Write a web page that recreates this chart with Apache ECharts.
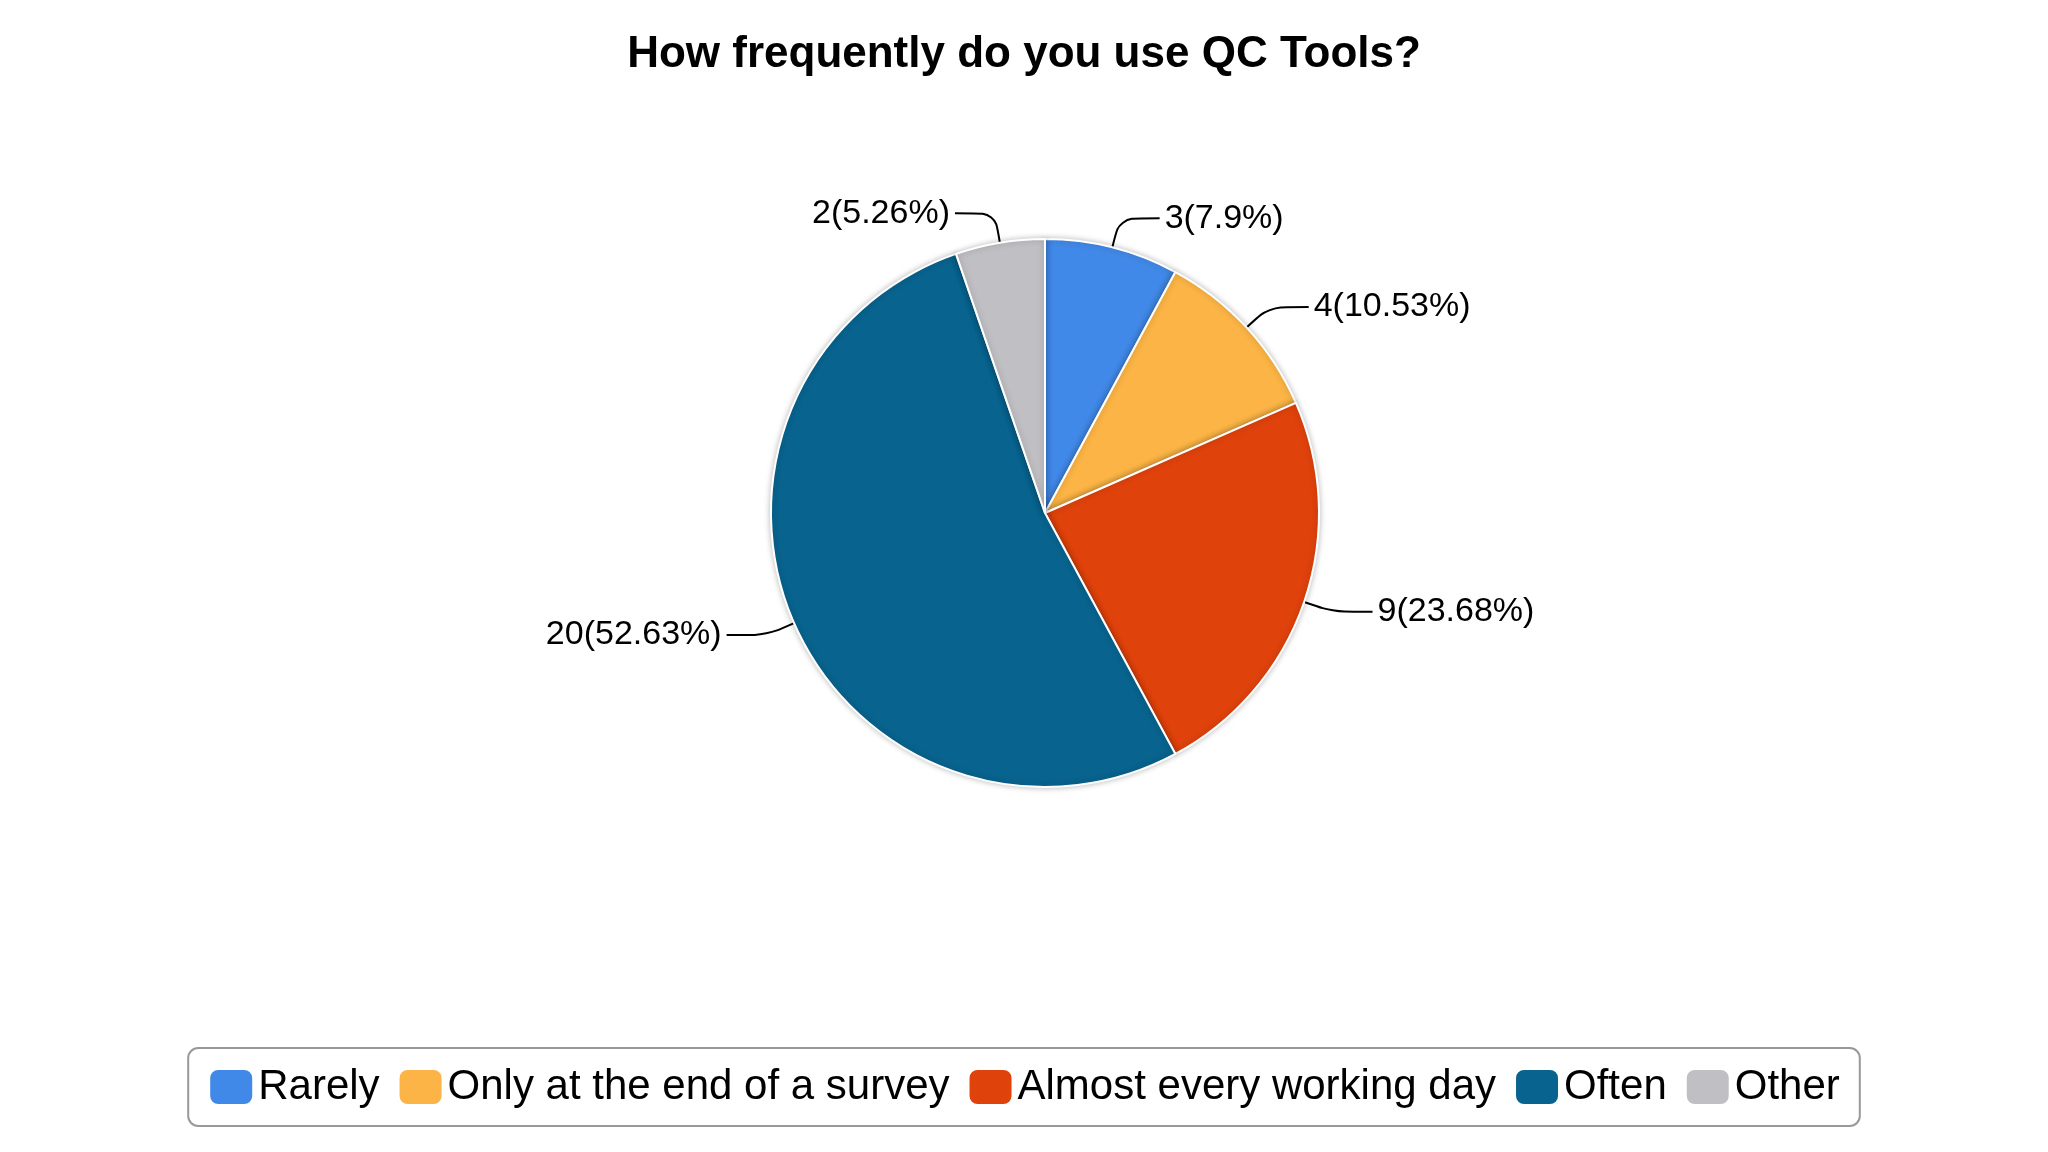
<!DOCTYPE html>
<html>
<head>
<meta charset="utf-8">
<script src="https://cdn.jsdelivr.net/npm/echarts@6/dist/echarts.min.js"></script>
<style>html,body{margin:0;padding:0;background:#fff}#chart{width:2048px;height:1152px}</style>
</head>
<body>
<div id="chart"></div>
<script>
// 数据
var categories = ['Rarely', 'Only at the end of a survey', 'Almost every working day', 'Often', 'Other'];
var counts = [3, 4, 9, 20, 2];
var colors = ['#4189e8', '#fbb445', '#e0420c', '#08638e', '#c0c0c4'];

var chart = echarts.init(document.getElementById('chart'));
var pieData = categories.map(function(name, i) {
    return { name: name, value: counts[i] };
});

chart.setOption({
    color: colors,
    animation: false,
    title: {
        text: 'How frequently do you use QC Tools?',
        left: 'center',
        top: 28,
        textStyle: { fontFamily: 'Liberation Sans', fontSize: 44, fontWeight: 'bold', color: '#000' }
    },
    legend: {
        bottom: 26,
        left: 'center',
        itemWidth: 44,
        itemHeight: 36,
        itemGap: 18,
        padding: [18, 20],
        borderColor: '#999',
        borderWidth: 2,
        borderRadius: 10,
        icon: 'roundRect',
        textStyle: { fontFamily: 'Liberation Sans', fontSize: 42, color: '#000' },
        data: categories
    },
    series: [{
        type: 'pie',
        center: [1045, 513],
        radius: 274,
        startAngle: 90,
        clockwise: true,
        itemStyle: { borderColor: '#fff', borderWidth: 2, shadowBlur: 6, shadowColor: 'rgba(0,0,0,0.25)' },
        label: {
            formatter: '{c}({d}%)',
            fontFamily: 'Liberation Sans',
            fontSize: 34,
            color: '#000'
        },
        labelLine: { length: 30, length2: 40, smooth: true, lineStyle: { color: '#000', width: 2 } },
        data: pieData
    }]
});
</script>
</body>
</html>
